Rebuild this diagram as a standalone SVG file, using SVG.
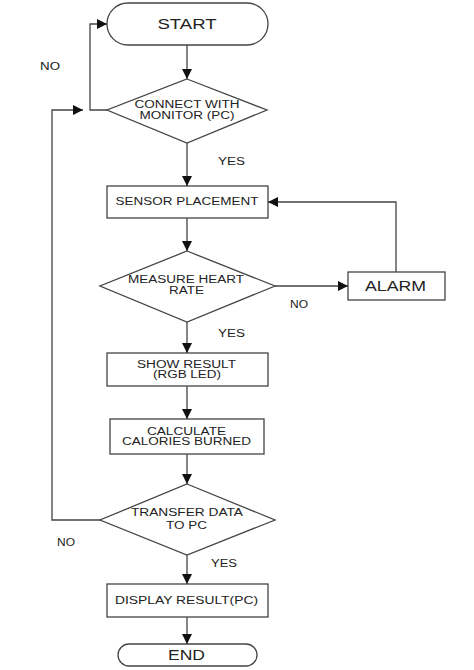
<svg xmlns="http://www.w3.org/2000/svg" width="474" height="670" viewBox="0 0 474 670">
<defs>
<marker id="arr" markerUnits="userSpaceOnUse" markerWidth="11" markerHeight="11" refX="10" refY="5" orient="auto">
<path d="M0,0 L10,5 L0,10 z" fill="#111"/>
</marker>
<style>
.s{fill:#fff;stroke:#444;stroke-width:1.3}
.c{fill:none;stroke:#444;stroke-width:1.3;marker-end:url(#arr)}
text{font-family:"Liberation Sans",Arial,sans-serif;fill:#222;font-size:11px;text-anchor:middle}
.t{font-size:10px}
.b{font-size:14px}
.lab{font-size:10px}
</style>
</defs>
<rect width="474" height="670" fill="#fff"/>
<g id="start"><rect class="s" x="107" y="3" width="161" height="42" rx="21"/><text class="b" x="187" y="29" textLength="59" lengthAdjust="spacingAndGlyphs">START</text></g>
<g id="connect"><polygon class="s" points="187,79 267,110 187,143 107,110"/><text class="t" x="187" y="107.5" textLength="105" lengthAdjust="spacingAndGlyphs">CONNECT WITH</text><text class="t" x="187" y="119" textLength="95" lengthAdjust="spacingAndGlyphs">MONITOR (PC)</text></g>
<g id="sensor"><rect class="s" x="107" y="186" width="161" height="32"/><text x="187" y="205" textLength="143" lengthAdjust="spacingAndGlyphs">SENSOR PLACEMENT</text></g>
<g id="measure"><polygon class="s" points="187,251 275,286 187,322 100,286"/><text class="t" x="186" y="283" textLength="116" lengthAdjust="spacingAndGlyphs">MEASURE HEART</text><text class="t" x="186.5" y="294" textLength="35" lengthAdjust="spacingAndGlyphs">RATE</text></g>
<g id="alarm"><rect class="s" x="348" y="272" width="97" height="28"/><text class="b" x="395.5" y="291" textLength="61" lengthAdjust="spacingAndGlyphs">ALARM</text></g>
<g id="show"><rect class="s" x="107" y="353" width="161" height="33"/><text class="t" x="186.5" y="367.5" textLength="99" lengthAdjust="spacingAndGlyphs">SHOW RESULT</text><text class="t" x="187" y="378" textLength="68" lengthAdjust="spacingAndGlyphs">(RGB LED)</text></g>
<g id="calc"><rect class="s" x="110" y="419" width="154" height="35"/><text class="t" x="186.5" y="434.5" textLength="79" lengthAdjust="spacingAndGlyphs">CALCULATE</text><text class="t" x="186.5" y="445" textLength="129" lengthAdjust="spacingAndGlyphs">CALORIES BURNED</text></g>
<g id="transfer"><polygon class="s" points="187,484 275,520 187,555 100,520"/><text class="t" x="187" y="516" textLength="112" lengthAdjust="spacingAndGlyphs">TRANSFER DATA</text><text class="t" x="186.5" y="529" textLength="41" lengthAdjust="spacingAndGlyphs">TO PC</text></g>
<g id="display"><rect class="s" x="107" y="584" width="161" height="33"/><text x="186.5" y="603.5" textLength="143" lengthAdjust="spacingAndGlyphs">DISPLAY RESULT(PC)</text></g>
<g id="end"><rect class="s" x="118" y="644" width="139" height="22" rx="11"/><text class="b" x="186.5" y="659.5" font-size="13" textLength="37" lengthAdjust="spacingAndGlyphs">END</text></g>
<g id="connectors">
<path class="c" d="M187,45 V79"/>
<path class="c" d="M107,110 H90 V24 H107"/>
<path class="c" d="M187,143 V186"/>
<path class="c" d="M187,218 V251"/>
<path class="c" d="M275,286 H348"/>
<path class="c" d="M396,272 V202 H268"/>
<path class="c" d="M187,322 V353"/>
<path class="c" d="M187,386 V419"/>
<path class="c" d="M187,454 V484"/>
<path class="c" d="M100,520 H52 V110 H83"/>
<path class="c" d="M187,555 V584"/>
<path class="c" d="M187,617 V644"/>
</g>
<g id="labels">
<text class="lab" x="50" y="70" textLength="20" lengthAdjust="spacingAndGlyphs">NO</text>
<text class="lab" x="231.5" y="165" textLength="27" lengthAdjust="spacingAndGlyphs">YES</text>
<text class="lab" x="299" y="308" textLength="18" lengthAdjust="spacingAndGlyphs">NO</text>
<text class="lab" x="231.5" y="337" textLength="27" lengthAdjust="spacingAndGlyphs">YES</text>
<text class="lab" x="66" y="546" textLength="18" lengthAdjust="spacingAndGlyphs">NO</text>
<text class="lab" x="224" y="567" textLength="26" lengthAdjust="spacingAndGlyphs">YES</text>
</g>
</svg>
